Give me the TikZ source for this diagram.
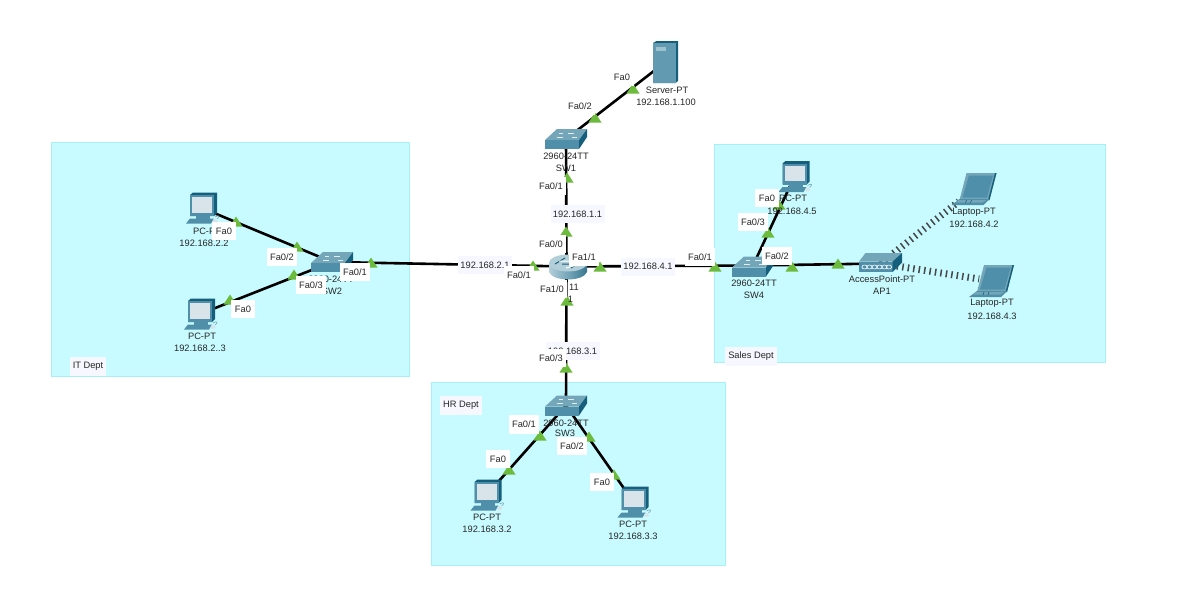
\documentclass[tikz,border=0pt]{standalone}
\usepackage{fontspec}
\setmainfont{Liberation Sans}
\usetikzlibrary{backgrounds}
\definecolor{regionfill}{HTML}{C8FBFF}
\definecolor{regionline}{HTML}{A6F0F6}
\definecolor{labelfill}{HTML}{F7F8FF}
\definecolor{portgreen}{HTML}{6CBB3C}
\definecolor{iconlight}{HTML}{74A6B9}
\definecolor{iconmid}{HTML}{4F8FA9}
\definecolor{icondark}{HTML}{165F7C}
\definecolor{screenc}{HTML}{D8E4EA}
\tikzset{
  x=1pt,y=-1pt,
  every node/.style={font=\fontsize{9.3}{11}\selectfont,text=black!85},
  region/.style={fill=regionfill,draw=regionline,line width=.8pt},
  dev/.style={inner sep=0pt},
  devtext/.style={inner sep=0pt},
  portbox/.style={fill=white,inner sep=0pt,inner xsep=3.5pt,minimum height=18.5pt},
  ipbox/.style={fill=labelfill,inner sep=0pt,minimum width=54pt,minimum height=18pt},
  deptbox/.style={fill=labelfill,inner sep=0pt,inner xsep=3pt,minimum height=19pt},
  plain/.style={inner sep=0pt},
  wire/.style={line width=2.6pt,black},
  wifi/.style={line width=7pt,black!72,dash pattern=on 1.5pt off 4pt},
  tri/.pic={\fill[portgreen] (0,-5.5)--(6.5,4.5)--(-6.5,4.5)--cycle;},
  switchicon/.pic={
    \fill[iconlight] (-21,1)--(-9,-10)--(21,-10)--(13,1)--cycle;
    \fill[iconmid] (-21,1)--(13,1)--(13,10)--(-21,10)--cycle;
    \fill[icondark] (13,1)--(21,-10)--(21,-2)--(13,10)--cycle;
    \draw[white!80!iconlight,line width=.6pt] (-9,-2)--(-3,-2) (2,-6)--(8,-6) (-3,-6)--(-7,-6) (6,-2)--(11,-2);
  },
  routericon/.pic={
    \shade[left color=iconlight!55!white,right color=icondark!85!white,middle color=iconlight]
      (-19,-4)--(-19,5) .. controls (-15,15) and (15,15) .. (19,5)--(19,-4)--cycle;
    \fill[iconlight!55!white] (0,-4) ellipse [x radius=19,y radius=8.5];
    \draw[icondark,line width=1pt] (-13,-3)--(-3,-9) (3,1)--(12,-5) (-6,-3)--(3,-3);
    \draw[white,line width=1pt] (-9,-6)--(5,-6) (-2,1)--(9,-2);
  },
  pcicon/.pic={
    \fill[icondark] (-12,-13)--(-9,-15.5)--(15,-15.5)--(15,5)--(12,8)--(-12,8)--cycle;
    \fill[iconmid] (-12,-13)--(12,-13)--(12,8)--(-12,8)--cycle;
    \fill[screenc] (-10,-11)--(10,-11)--(10,4.5)--(-10,4.5)--cycle;
    \fill[iconmid] (-6,8)--(8,8)--(8,10.5)--(-6,10.5)--cycle;
    \fill[iconmid] (-16,15.5)--(-12,10.5)--(12,10.5)--(9,15.5)--cycle;
    \draw[iconlight,line width=.6pt] (13,9) .. controls (18,6) and (18,9) .. (15,11);
    \fill[white!70!iconlight] (13,13) ellipse [x radius=2.5,y radius=2];
  },
  servericon/.pic={
    \fill[icondark] (-12.5,-19)--(-9,-21)--(12.5,-21)--(12.5,19)--(10,21)--(-12.5,21)--cycle;
    \fill[iconmid!90!white] (-12.5,-19)--(10,-19)--(10,21)--(-12.5,21)--cycle;
    \fill[iconlight!70!white] (-10,-15)--(0,-15)--(0,-11.5)--(-10,-11.5)--cycle;
  },
  laptopicon/.pic={
    \fill[iconlight] (-8,-16)--(22,-16)--(15,11)--(-15,11)--cycle;
    \fill[iconmid] (-5.5,-13.5)--(18.5,-13.5)--(12.5,8.5)--(-12,8.5)--cycle;
    \fill[icondark] (20.5,-16)--(22,-16)--(15,11)--(13.5,11)--cycle;
    \fill[iconmid] (-15,10)--(15,10)--(9,16)--(-23,16)--cycle;
    \fill[iconlight] (-16,11)--(12,11)--(8,13.5)--(-19,13.5)--cycle;
    \draw[icondark,line width=.6pt] (-8,11)--(-9,14) (-3,11)--(-4,14);
  },
  apicon/.pic={
    \fill[iconlight] (-21.5,-1)--(-15,-9.5)--(21.5,-9.5)--(12,-1)--cycle;
    \fill[iconmid] (-21.5,-1)--(12,-1)--(12,9.5)--(-21.5,9.5)--cycle;
    \fill[icondark] (12,-1)--(21.5,-9.5)--(21.5,0)--(12,9.5)--cycle;
    \foreach \k in {-16,-11,-6,-1,4,8.5}{\draw[white,line width=.6pt] (\k,4.5) ellipse [x radius=2.6,y radius=2];}
  },
}
\newcommand{\port}[3]{\node[portbox] (#1) at (#2) {#3};}
\newcommand{\ipl}[3]{\node[ipbox] (#1) at (#2) {#3};}
\newcommand{\dtx}[3]{\node[devtext] (#1) at (#2) {#3};}
\begin{document}
\begin{tikzpicture}
\useasboundingbox (0,0) rectangle (1200,603);

% devices
\node[dev,minimum width=25pt,minimum height=42pt] (server) at (665.5,62) {};
\node[dev,minimum width=42pt,minimum height=20pt] (sw1) at (566,139) {};
\node[dev,minimum width=38pt,minimum height=25pt] (r1) at (566.5,266.5) {};
\node[dev,minimum width=42pt,minimum height=20pt] (sw2) at (332,262) {};
\node[dev,minimum width=42pt,minimum height=20pt] (sw3) at (566,405.5) {};
\node[dev,minimum width=42pt,minimum height=20pt] (sw4) at (753,265.5) {};
\node[dev,minimum width=36pt,minimum height=31pt] (pc22) at (202,208) {};
\node[dev,minimum width=36pt,minimum height=31pt] (pc23) at (200,314) {};
\node[dev,minimum width=36pt,minimum height=31pt] (pc32) at (486.5,495) {};
\node[dev,minimum width=36pt,minimum height=31pt] (pc33) at (633.5,502) {};
\node[dev,minimum width=36pt,minimum height=31pt] (pc45) at (794.5,176.5) {};
\node[dev,minimum width=43pt,minimum height=19pt] (ap1) at (880.5,263.5) {};
\node[dev,minimum width=45pt,minimum height=32pt] (lap2) at (974.5,189) {};
\node[dev,minimum width=45pt,minimum height=32pt] (lap3) at (992,281) {};

\begin{pgfonlayer}{background}
  \fill[white] (0,0) rectangle (1200,603);
  \path[region] (51,142) rectangle (409,376);
  \path[region] (714,144) rectangle (1105,362);
  \path[region] (431,382) rectangle (725,565);
  \draw[wire] (server.center) -- (sw1.center);
  \draw[wire] (sw1.center) -- (r1.center);
  \draw[wire] (sw2.center) -- (r1.center);
  \draw[wire] (r1.center) -- (sw3.center);
  \draw[wire] (r1.center) -- (sw4.center);
  \draw[wire] (pc22.center) -- (sw2.center);
  \draw[wire] (pc23.center) -- (sw2.center);
  \draw[wire] (sw3.center) -- (pc32.center);
  \draw[wire] (sw3.center) -- (pc33.center);
  \draw[wire] (sw4.center) -- (pc45.center);
  \draw[wire] (sw4.center) -- (ap1.center);
  \draw[wifi,shorten >=20pt] (ap1.center) -- (lap2.center);
  \draw[wifi,shorten >=13pt] (ap1.center) -- (lap3.center);
\end{pgfonlayer}

\pic at (server) {servericon};
\pic at (sw1) {switchicon};
\pic at (568,267) {routericon};
\pic at (sw2) {switchicon};
\pic at (sw3) {switchicon};
\pic at (753,266.5) {switchicon};
\pic at (pc22) {pcicon};
\pic at (pc23) {pcicon};
\pic at (pc32) {pcicon};
\pic at (pc33) {pcicon};
\pic at (pc45) {pcicon};
\pic at (880.5,262.5) {apicon};
\pic at (lap2) {laptopicon};
\pic at (lap3) {laptopicon};

% port markers
\foreach \a/\b in {633/89,595/118,567/178,566/232,533/266,371/263,600/267,715/267,
  567/301,566/368,236/222,297/247,230/300,294/275,509/470,540/436,589/437,614/475,
  768/233,779/205,792/267,838/264}{
  \pic at (\a,\b) {tri};
}

% device labels
\dtx{tserver}{667,90}{Server-PT}
\dtx{iserver}{666,102}{192.168.1.100}
\dtx{tsw1}{566,156}{2960-24TT}
\dtx{nsw1}{566,168}{SW1}
\dtx{tsw2}{331,279}{2960-24TT}
\dtx{nsw2}{332,291}{SW2}
\dtx{tsw3}{566,423}{2960-24TT}
\dtx{nsw3}{565,433.5}{SW3}
\dtx{tsw4}{754,283}{2960-24TT}
\dtx{nsw4}{754,295}{SW4}
\dtx{tpc22}{207,231}{PC-PT}
\dtx{ipc22}{204,243}{192.168.2.2}
\dtx{tpc23}{202,336}{PC-PT}
\dtx{ipc23}{200,348}{192.168.2..3}
\dtx{tpc32}{487,517}{PC-PT}
\dtx{ipc32}{487,529}{192.168.3.2}
\dtx{tpc33}{633,524}{PC-PT}
\dtx{ipc33}{633,536}{192.168.3.3}
\dtx{tpc45}{793,198}{PC-PT}
\dtx{ipc45}{792,211}{192.168.4.5}
\dtx{tap}{882,279}{AccessPoint-PT}
\dtx{nap}{882,291}{AP1}
\dtx{tlap2}{974,212}{Laptop-PT}
\dtx{ilap2}{974,224}{192.168.4.2}
\dtx{tlap3}{992,303}{Laptop-PT}
\dtx{ilap3}{992,316}{192.168.4.3}

% address labels
\ipl{ip1}{577.5,214}{192.168.1.1}
\ipl{ip2}{485,265}{192.168.2.1}
\ipl{ip3}{572.5,351}{192.168.3.1}
\ipl{ip4}{648,266.5}{192.168.4.1}

% port labels
\port{p01}{622,77}{Fa0}
\port{p02}{580,106}{Fa0/2}
\port{p03}{551,186}{Fa0/1}
\port{p04}{551,244}{Fa0/0}
\port{p05}{519,275}{Fa0/1}
\port{p06}{584,257}{Fa1/1}
\port{p07}{700,257}{Fa0/1}
\node[plain] (p08b) at (574,287) {11};
\node[plain] (p08c) at (570.5,299) {1};
\port{p08}{552,289}{Fa1/0}
\port{p09}{551,358}{Fa0/3}
\port{p10}{224,231}{Fa0}
\port{p11}{282,257}{Fa0/2}
\port{p12}{355,272}{Fa0/1}
\port{p13}{311,285}{Fa0/3}
\port{p14}{243,309}{Fa0}
\port{p15}{524,424.5}{Fa0/1}
\port{p16}{498,459}{Fa0}
\port{p17}{572,446}{Fa0/2}
\port{p18}{602,482}{Fa0}
\port{p19}{767,198}{Fa0}
\port{p20}{753,222}{Fa0/3}
\port{p21}{777,256}{Fa0/2}

% department labels
\node[deptbox] (d1) at (88,366.5) {IT Dept};
\node[deptbox] (d2) at (751,356.5) {Sales Dept};
\node[deptbox] (d3) at (461,405.5) {HR Dept};
\end{tikzpicture}
\end{document}
